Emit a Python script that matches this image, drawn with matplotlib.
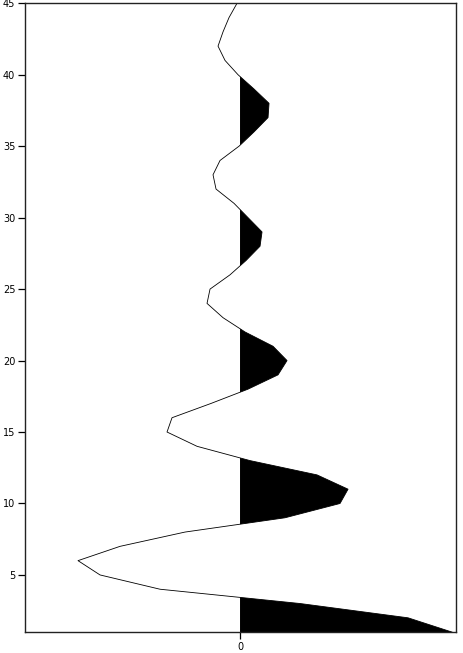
import matplotlib.pyplot as plt
import numpy as np

# Trace samples (depth index) and amplitude
depth = list(range(1, 46))
amplitude = [2.12, 1.68, 0.60, -0.80, -1.40, -1.62, -1.20, -0.55, 0.45, 1.00,
             1.08, 0.77, 0.10, -0.43, -0.73, -0.68, -0.29, 0.08, 0.38, 0.47,
             0.33, 0.05, -0.17, -0.33, -0.30, -0.10, 0.06, 0.20, 0.22, 0.08,
             -0.06, -0.24, -0.27, -0.20, -0.01, 0.14, 0.28, 0.29, 0.14, -0.02,
             -0.15, -0.22, -0.17, -0.11, -0.03]
ytick_vals = [5, 10, 15, 20, 25, 30, 35, 40, 45]
xtick_vals = [0]

fig = plt.figure(figsize=(4.63, 6.53), dpi=100, facecolor="white")
ax = fig.add_axes([0.054, 0.032, 0.931, 0.963])

y = np.array(depth, dtype=float)
x = np.array(amplitude)

# wiggle line + positive fill
ax.plot(x, y, color="black", linewidth=0.6)
ax.fill_betweenx(y, 0, x, where=x > 0, interpolate=True, color="black", linewidth=0)

ax.set_xlim(-2.15, 2.16)
ax.set_ylim(1, 45)
ax.set_yticks(ytick_vals)
ax.set_xticks(xtick_vals)

for s in ax.spines.values():
    s.set_color("#222222")
    s.set_linewidth(1.0)

ax.tick_params(direction="out", length=5, width=0.9, labelsize=7, colors="black", pad=2)

plt.savefig("out.png", dpi=100, facecolor="white")
